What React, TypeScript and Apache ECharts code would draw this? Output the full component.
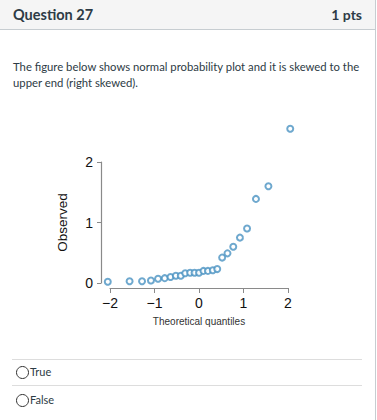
import React, { useEffect, useRef } from "react";
import * as echarts from "echarts";

const theoreticalQuantiles = [
  -2.05, -1.56, -1.28, -1.08, -0.92, -0.77, -0.64, -0.52, -0.41, -0.31, -0.2, -0.1, 0,
  0.1, 0.2, 0.31, 0.41, 0.52, 0.64, 0.77, 0.92, 1.08, 1.28, 1.56, 2.05,
];
const observed = [
  0.02, 0.03, 0.03, 0.04, 0.07, 0.08, 0.1, 0.12, 0.12, 0.16, 0.17, 0.17, 0.17,
  0.2, 0.2, 0.21, 0.23, 0.42, 0.49, 0.6, 0.75, 0.9, 1.39, 1.6, 2.55,
];
const xTicks = [-2, -1, 0, 1, 2];
const yTicks = [0, 1, 2];
const questionTitle = "Question 27";
const points = "1 pts";
const bodyLines = [
  "The figure below shows normal probability plot and it is skewed to the",
  "upper end (right skewed).",
];
const answers = ["True", "False"];

const TEXT = "#2d3b45";
const FONT = "Lato, 'Noto Sans', sans-serif";
const AXFONT = "'Liberation Sans', Arial, sans-serif";

export default function App() {
  const ref = useRef<HTMLDivElement>(null);
  useEffect(() => {
    document.body.style.margin = "0";
    const chart = echarts.init(ref.current!, null, { renderer: "svg" });
    const data = theoreticalQuantiles.map((q, i) => [q, observed[i]]);
    const graphic: any[] = [
      { type: "rect", shape: { x: 0, y: 0, width: 375, height: 29 }, style: { fill: "#f5f5f5" }, silent: true },
      { type: "line", shape: { x1: 0, y1: 29.5, x2: 375, y2: 29.5 }, style: { stroke: "#c7cdd1", lineWidth: 1 } },
      { type: "line", shape: { x1: 375.5, y1: 0, x2: 375.5, y2: 420 }, style: { stroke: "#c7cdd1", lineWidth: 1 } },
      { type: "text", x: 13, y: 14, style: { text: questionTitle, font: `bold 14.5px ${FONT}`, fill: TEXT, textVerticalAlign: "middle" } },
      { type: "text", x: 362, y: 14, style: { text: points, font: `bold 14px ${FONT}`, fill: TEXT, textAlign: "right", textVerticalAlign: "middle" } },
      ...bodyLines.map((t, i) => ({
        type: "text", x: 13, y: 66.5 + i * 15.5,
        style: { text: t, font: `11.3px ${FONT}`, fill: TEXT, textVerticalAlign: "middle" },
      })),
      { type: "line", shape: { x1: 12, y1: 359.5, x2: 362, y2: 359.5 }, style: { stroke: "#dddddd", lineWidth: 1 } },
      { type: "line", shape: { x1: 12, y1: 385.5, x2: 362, y2: 385.5 }, style: { stroke: "#dddddd", lineWidth: 1 } },
      ...answers.flatMap((a, i) => [
        { type: "circle", shape: { cx: 22.5, cy: 372.5 + i * 28, r: 6 }, style: { fill: "#fff", stroke: "#333", lineWidth: 1 } },
        { type: "text", x: 30, y: 371 + i * 28, style: { text: a, font: `11px ${FONT}`, fill: TEXT, textVerticalAlign: "middle" } },
      ]),
    ];
    const fmt = (v: number) => String(v).replace("-", "\u2212");
    chart.setOption({
      animation: false,
      backgroundColor: "#fff",
      graphic,
      grid: { left: 110, right: 89, top: 162, bottom: 137 },
      xAxis: {
        type: "value", min: xTicks[0], max: xTicks[xTicks.length - 1], interval: 1, offset: 5,
        axisLine: { show: true, onZero: false, lineStyle: { color: "#8a8a8a", width: 1.2 } },
        axisTick: { show: true, length: 5, lineStyle: { color: "#8a8a8a" } },
        axisLabel: { formatter: fmt, color: "#111", fontSize: 14, fontFamily: AXFONT, margin: 8 },
        splitLine: { show: false },
        name: "Theoretical quantiles", nameLocation: "middle", nameGap: 28,
        nameTextStyle: { fontSize: 10, color: "#333", fontFamily: AXFONT },
      },
      yAxis: {
        type: "value", min: yTicks[0], max: yTicks[yTicks.length - 1], interval: 1, offset: 9,
        axisLine: { show: true, onZero: false, lineStyle: { color: "#8a8a8a", width: 1.2 } },
        axisTick: { show: true, length: 4, lineStyle: { color: "#8a8a8a" } },
        axisLabel: { formatter: fmt, color: "#111", fontSize: 14, fontFamily: AXFONT, margin: 8 },
        splitLine: { show: false },
        name: "Observed", nameLocation: "middle", nameGap: 32, nameRotate: 90,
        nameTextStyle: { fontSize: 13.5, color: "#111", fontFamily: AXFONT },
      },
      series: [{
        type: "scatter", data, clip: false, symbol: "emptyCircle", symbolSize: 6,
        itemStyle: { color: "#4a92c2", borderColor: "#4a92c2", borderWidth: 1.6 },
      }],
    });
    return () => chart.dispose();
  }, []);
  return <div ref={ref} style={{ position: "absolute", left: 0, top: 0, width: 377, height: 420 }} />;
}
